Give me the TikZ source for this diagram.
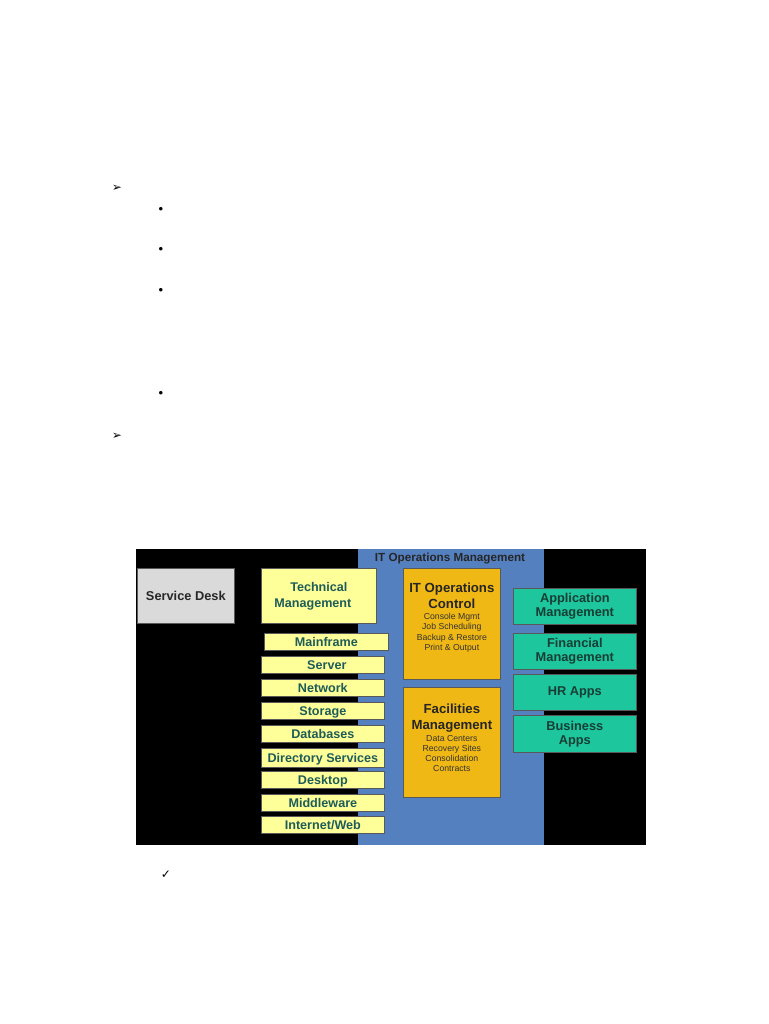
\documentclass[tikz,border=0pt]{standalone}
\usepackage{fontspec}
\setmainfont{Liberation Sans}
\newfontfamily\symfont{DejaVu Sans}
\usetikzlibrary{positioning}

\definecolor{opsblue}{RGB}{84,128,192}
\definecolor{techyellow}{RGB}{255,255,153}
\definecolor{techtext}{RGB}{30,92,88}
\definecolor{ctrlgold}{RGB}{240,184,20}
\definecolor{appteal}{RGB}{30,198,158}
\definecolor{apptext}{RGB}{22,62,52}
\definecolor{deskgray}{RGB}{218,218,218}

\begin{document}
\begin{tikzpicture}
     [x=1pt, y=-1pt,
      box/.style={draw=black!65, line width=0.7pt, inner sep=0pt, anchor=north west, align=center},
      techbox/.style={box, fill=techyellow, text=techtext,
        font=\fontsize{12.6}{16}\selectfont\bfseries},
      itembox/.style={techbox, minimum width=123pt, minimum height=17pt,
        text height=9.4pt, text depth=0pt},
      ctrlbox/.style={box, fill=ctrlgold, minimum width=97pt, minimum height=110pt},
      ctrltitle/.style={anchor=north, align=center, text=black!85, inner sep=0pt,
        font=\fontsize{13.2}{16}\selectfont\bfseries},
      ctrldetail/.style={anchor=north, align=center, text=black!80, inner sep=0pt,
        font=\fontsize{8.7}{10.2}\selectfont},
      appbox/.style={box, fill=appteal, text=apptext, minimum width=123pt, minimum height=36pt,
        font=\fontsize{12.8}{14}\selectfont\bfseries},
      pagemark/.style={inner sep=0pt, font=\symfont\fontsize{12}{12}\selectfont},
      dotmark/.style={inner sep=0pt, font=\fontsize{13}{13}\selectfont}]
   \fill[white] (0,0) rectangle (768,1024);
   \useasboundingbox (0,0) rectangle (768,1024);
   % markers of the page
   \node (arrowA) [pagemark] at (117,188) {➢};
   \node (dotA) [dotmark] at (161,210) {•};
   \node (dotB) [dotmark] at (161,250) {•};
   \node (dotC) [dotmark] at (161,291) {•};
   \node (dotD) [dotmark] at (161,394) {•};
   \node (arrowB) [pagemark] at (117,436) {➢};
   \node (tick) [pagemark] at (166,875) {✓};
   % the frame
   \fill[black] (136,549) rectangle (646,845);
   \fill[opsblue] (358,549) rectangle (544,845);
   \node (ITOM) [inner sep=0pt, font=\fontsize{11.7}{12}\selectfont\bfseries, text=black!85]
     at (450,558) {IT Operations Management};
   \node (SD) [box, fill=deskgray, text=black!85, minimum width=97pt, minimum height=55pt,
     font=\fontsize{12.8}{14}\selectfont\bfseries] at (137,568) {Service Desk};
   % technical management
   \node (TM) [techbox, minimum width=115pt, minimum height=55pt] at (261,568)
     {Technical\\Management\hspace*{12pt}};
   \node (main) [itembox, minimum width=124pt] at (264,633) {Mainframe};
   \node (serv) [itembox] at (261,656) {\hspace*{8pt}Server};
   \node (net)  [itembox] at (261,679) {Network};
   \node (stor) [itembox] at (261,702) {Storage};
   \node (db)   [itembox] at (261,725) {Databases};
   \node (dir)  [itembox, minimum height=19pt] at (261,748) {Directory Services};
   \node (desk) [itembox] at (261,771) {Desktop};
   \node (mid)  [itembox] at (261,794) {Middleware};
   \node (web)  [itembox] at (261,816) {Internet/Web};
   % operations control and facilities
   \node (ctrl) [ctrlbox, minimum height=111pt] at (403,568) {};
   \node (ctrlT) [ctrltitle, below=15pt of ctrl.north] {IT Operations\\Control};
   \node (ctrlD) [ctrldetail, below=4pt of ctrlT] {Console Mgmt\\Job Scheduling\\Backup \& Restore\\Print \& Output};
   \node (fac) [ctrlbox] at (403,687) {};
   \node (facT) [ctrltitle, below=17pt of fac.north] {Facilities\\Management};
   \node (facD) [ctrldetail, below=2pt of facT] {Data Centers\\Recovery Sites\\Consolidation\\Contracts};
   % application management
   \node (AM) [appbox] at (513,588) {Application\\Management};
   \node (FM) [appbox] at (513,633) {Financial\\Management};
   \node (HR) [appbox] at (513,674) {HR Apps};
   \node (BA) [appbox, minimum height=37pt] at (513,715) {Business\\Apps};
\end{tikzpicture}
\end{document}
